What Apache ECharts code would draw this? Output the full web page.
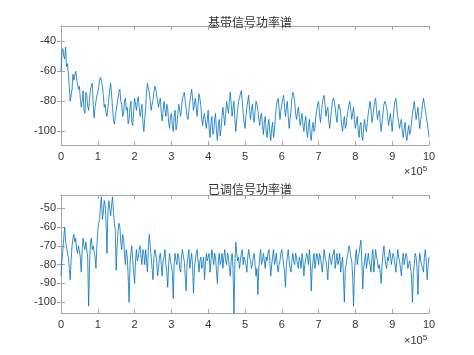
<!DOCTYPE html>
<html lang="zh">
<head>
    <meta charset="UTF-8">
    <title>power spectrum</title>
    <script type="text/javascript" src="https://cdn.jsdelivr.net/npm/echarts@6.0.0/dist/echarts.min.js"></script>
    <style>html,body{margin:0;padding:0;background:#fff;}</style>
</head>
<body>
    <div id="main" style="width: 474px; height: 355px"></div>
    <script type="text/javascript">
        var myChart = echarts.init(document.getElementById('main'));

        // x step 2500 Hz, 0 .. 1e6
        var step = 2500;
        var xTicks = [0, 1, 2, 3, 4, 5, 6, 7, 8, 9, 10];
        var yTicksTop = [-100, -80, -60, -40];
        var yTicksBottom = [-100, -90, -80, -70, -60, -50];

        // 基带信号功率谱
        var baseband = [
            -60, -48, -45, -50, -52, -44, -57, -55, -62, -70, -80, -76, -72, -62, -66, -63, -60, -65, -64, -72,
            -70, -78, -84, -80, -73, -86, -88, -74, -76, -83, -86, -79, -72, -70, -68, -82, -91, -84, -80, -76,
            -74, -70, -66, -64, -63, -70, -76, -84, -82, -88, -90, -84, -78, -72, -68, -76, -84, -92, -95, -90,
            -86, -82, -78, -74, -72, -80, -82, -90, -88, -80, -78, -86, -84, -95, -92, -84, -80, -94, -96, -86,
            -78, -82, -86, -80, -77, -84, -90, -86, -82, -94, -100, -92, -85, -74, -68, -72, -74, -80, -86, -82,
            -79, -74, -70, -72, -73, -80, -84, -80, -78, -88, -93, -86, -80, -86, -90, -82, -85, -94, -98, -90,
            -88, -96, -100, -90, -86, -99, -96, -88, -82, -86, -90, -84, -78, -76, -74, -80, -85, -90, -92, -86,
            -80, -76, -72, -78, -86, -82, -78, -84, -90, -82, -75, -78, -83, -92, -96, -90, -88, -94, -98, -92,
            -86, -98, -104, -94, -90, -102, -100, -92, -88, -100, -106, -96, -92, -103, -98, -90, -84, -90, -96, -88,
            -80, -84, -88, -80, -74, -82, -90, -84, -80, -92, -100, -92, -86, -80, -78, -75, -73, -80, -88, -94,
            -98, -90, -84, -80, -76, -86, -92, -86, -82, -90, -94, -86, -80, -82, -86, -92, -96, -90, -88, -96,
            -102, -94, -90, -100, -104, -96, -92, -101, -106, -98, -94, -104, -100, -90, -84, -80, -78, -84, -92, -86,
            -82, -78, -76, -84, -90, -84, -80, -90, -98, -92, -86, -78, -74, -76, -80, -88, -92, -88, -84, -90,
            -96, -92, -88, -96, -100, -94, -90, -99, -104, -96, -92, -102, -106, -98, -94, -100, -98, -90, -86, -82,
            -80, -88, -94, -88, -82, -78, -76, -82, -90, -86, -84, -92, -98, -92, -86, -80, -78, -80, -84, -90,
            -94, -86, -82, -84, -88, -96, -100, -94, -90, -98, -96, -90, -86, -82, -80, -86, -92, -88, -84, -92,
            -98, -94, -90, -99, -104, -96, -94, -103, -106, -97, -92, -98, -100, -94, -88, -84, -80, -86, -94, -90,
            -84, -80, -78, -86, -92, -88, -86, -94, -100, -94, -88, -82, -80, -82, -84, -90, -96, -92, -88, -94,
            -100, -92, -84, -80, -78, -84, -90, -94, -98, -94, -92, -100, -104, -98, -94, -103, -106, -100, -96, -102,
            -100, -94, -88, -84, -80, -86, -92, -88, -84, -92, -98, -92, -88, -82, -78, -82, -86, -90, -94, -98, -104
        ];

        // 已调信号功率谱
        var modulated = [
            -86, -78, -72, -66, -60, -68, -70, -74, -76, -82, -88, -78, -70, -66, -64, -68, -66, -72, -74, -70,
            -70, -76, -84, -72, -66, -70, -72, -68, -68, -76, -102, -80, -68, -66, -72, -70, -70, -76, -82, -70,
            -62, -58, -56, -48, -44, -56, -52, -46, -48, -58, -74, -52, -46, -50, -54, -48, -44, -52, -58, -62,
            -83, -70, -62, -58, -60, -68, -72, -64, -66, -74, -80, -72, -76, -86, -100, -80, -74, -70, -78, -84,
            -90, -78, -72, -78, -76, -72, -70, -76, -80, -72, -74, -80, -72, -78, -84, -70, -64, -70, -76, -82,
            -88, -76, -72, -74, -78, -86, -82, -76, -74, -80, -86, -78, -76, -72, -80, -84, -92, -80, -74, -78,
            -78, -84, -98, -80, -74, -78, -80, -74, -76, -82, -84, -76, -72, -76, -78, -86, -94, -80, -76, -72,
            -82, -78, -74, -80, -95, -82, -78, -74, -72, -78, -84, -78, -76, -82, -80, -76, -88, -80, -74, -78,
            -78, -74, -84, -78, -72, -76, -80, -74, -76, -84, -90, -78, -74, -80, -78, -74, -82, -76, -72, -78,
            -80, -74, -76, -82, -86, -78, -74, -82, -106, -80, -68, -74, -78, -76, -82, -78, -74, -72, -80, -76,
            -76, -80, -84, -76, -72, -76, -78, -82, -80, -76, -74, -80, -86, -82, -96, -82, -76, -72, -80, -78,
            -74, -78, -82, -76, -78, -74, -72, -78, -86, -80, -76, -72, -80, -78, -74, -80, -84, -80, -78, -74,
            -72, -76, -80, -84, -92, -80, -76, -72, -78, -82, -84, -78, -74, -78, -80, -74, -76, -80, -82, -76,
            -78, -82, -74, -78, -86, -80, -80, -74, -76, -80, -72, -78, -94, -82, -78, -74, -82, -78, -74, -76,
            -80, -74, -76, -80, -84, -78, -72, -76, -78, -82, -88, -78, -74, -78, -80, -76, -76, -72, -82, -78,
            -74, -80, -78, -74, -84, -80, -76, -86, -100, -82, -80, -76, -74, -70, -72, -76, -78, -86, -102, -84,
            -76, -72, -80, -76, -74, -70, -67, -78, -93, -82, -78, -74, -82, -78, -74, -78, -80, -84, -76, -72,
            -84, -78, -72, -76, -78, -82, -80, -84, -90, -80, -74, -70, -76, -80, -82, -76, -78, -72, -74, -80,
            -80, -74, -76, -80, -84, -78, -72, -76, -78, -82, -86, -78, -74, -80, -80, -74, -76, -82, -82, -78,
            -78, -86, -100, -84, -80, -74, -76, -82, -96, -80, -74, -78, -78, -82, -84, -76, -72, -78, -88, -80, -76
        ];

        function pairs(arr) {
            return arr.map(function (v, i) { return [i * step, v]; });
        }

        var lineColor = '#a6a6a6';
        var textColor = '#333333';
        var font = 'Liberation Sans';

        function xAxisPair(gi) {
            var base = {
                type: 'value', gridIndex: gi, min: 0, max: 1000000, interval: 100000,
                splitLine: {show: false},
                axisLine: {show: true, lineStyle: {color: lineColor, width: 1}},
                axisTick: {inside: true, length: 4, lineStyle: {color: lineColor}}
            };
            var bottom = Object.assign({}, base, {
                position: 'bottom',
                axisLabel: {
                    color: textColor, fontFamily: font, fontSize: 11, margin: 6,
                    formatter: function (v) { return xTicks[Math.round(v / 100000)]; }
                }
            });
            var top = Object.assign({}, base, {position: 'top', axisLabel: {show: false}});
            return [bottom, top];
        }

        function yAxisPair(gi, min, max, ticks) {
            var base = {
                type: 'value', gridIndex: gi, min: min, max: max,
                splitLine: {show: false},
                axisLine: {show: true, lineStyle: {color: lineColor, width: 1}},
                axisTick: {inside: true, length: 4, customValues: ticks, lineStyle: {color: lineColor}}
            };
            var left = Object.assign({}, base, {
                position: 'left',
                axisLabel: {color: textColor, fontFamily: font, fontSize: 11, margin: 5, customValues: ticks}
            });
            var right = Object.assign({}, base, {position: 'right', axisLabel: {show: false}});
            return [left, right];
        }

        var xs = xAxisPair(0).concat(xAxisPair(1));
        var ys = yAxisPair(0, -109, -30, yTicksTop).concat(yAxisPair(1, -105.7, -43, yTicksBottom));

        var titleStyle = {color: '#333333', fontFamily: 'Noto Sans CJK SC', fontSize: 12, fontWeight: 'normal'};
        var expStyle = {
            text: '×10{s|5}',
            fill: textColor, fontFamily: font, fontSize: 11,
            rich: {s: {fontSize: 8, verticalAlign: 'top', padding: [0, 0, 6, 0], fontFamily: font}}
        };

        option = {
            animation: false,
            title: [
                {text: '基带信号功率谱', left: 245, top: 11, textAlign: 'center', textStyle: titleStyle},
                {text: '已调信号功率谱', left: 245, top: 178, textAlign: 'center', textStyle: titleStyle}
            ],
            grid: [
                {left: 61, top: 26, width: 368, height: 119},
                {left: 61, top: 195, width: 368, height: 118}
            ],
            xAxis: xs,
            yAxis: ys,
            graphic: [
                {type: 'text', left: 404, top: 165, style: Object.assign({}, expStyle)},
                {type: 'text', left: 404, top: 334, style: Object.assign({}, expStyle)}
            ],
            series: [
                {
                    type: 'line', xAxisIndex: 0, yAxisIndex: 0, data: pairs(baseband),
                    showSymbol: false, lineStyle: {color: '#0072BD', width: 0.8}, clip: true
                },
                {
                    type: 'line', xAxisIndex: 2, yAxisIndex: 2, data: pairs(modulated),
                    showSymbol: false, lineStyle: {color: '#0072BD', width: 0.8}, clip: true
                }
            ]
        };

        myChart.setOption(option);
    </script>
</body>
</html>
